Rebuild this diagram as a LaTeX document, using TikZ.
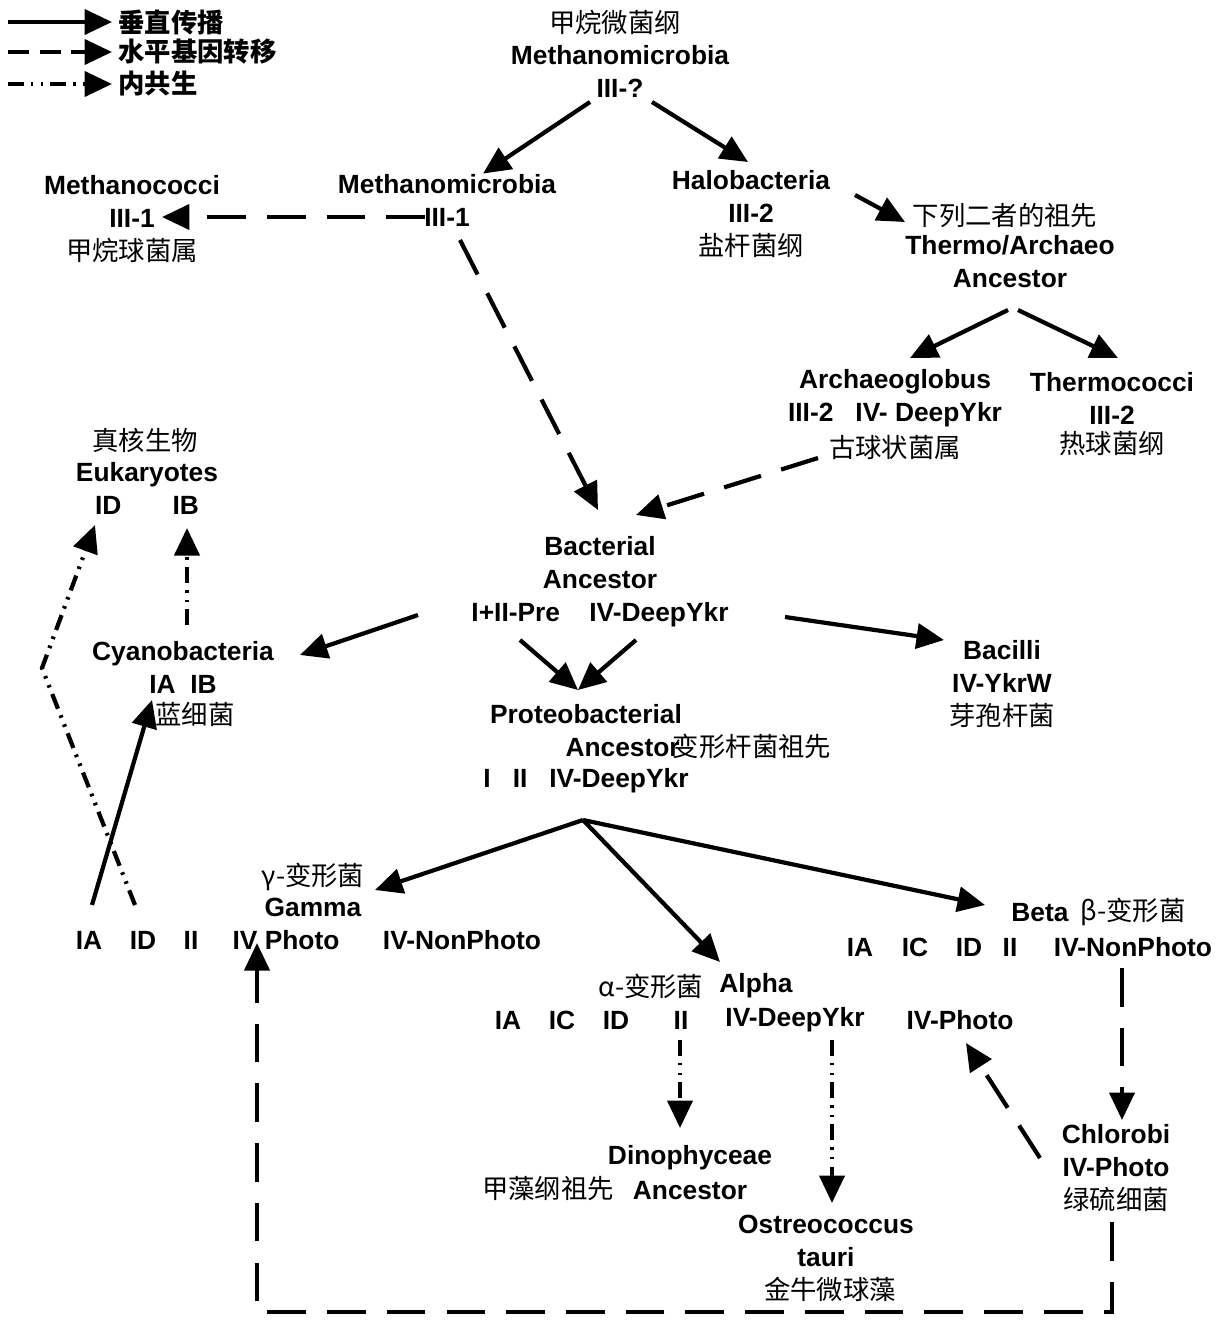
\documentclass[tikz,border=0pt]{standalone}
\usepackage{fontspec}
\setmainfont{Liberation Sans}
\newfontfamily\cjk{Noto Sans CJK SC}
\usetikzlibrary{arrows.meta}
\tikzset{
  lbl/.style={font=\fontsize{15}{18.8}\selectfont\bfseries, align=center, inner sep=0pt},
  zh/.style={font=\fontsize{15}{18.8}\selectfont\cjk, align=center, inner sep=0pt},
  link/.style={line width=2.4pt, -{Triangle[length=0.55cm,width=0.5cm]}},
  vert/.style={link},
  horiz/.style={link, dash pattern=on 22pt off 12pt},
  endo/.style={link, dash pattern=on 9pt off 4pt on 1.5pt off 4pt on 1.5pt off 4pt}
}
\begin{document}
\begin{tikzpicture}[x=0.02cm, y=-0.02cm]
\useasboundingbox (0,0) rectangle (1228,1329);

% legend
\coordinate (l1a) at (8,22);  \coordinate (l1b) at (112,22);
\coordinate (l2a) at (8,52);  \coordinate (l2b) at (112,52);
\coordinate (l3a) at (8,84);  \coordinate (l3b) at (112,84);
\draw [vert] (l1a) -- (l1b);
\draw [link, dash pattern=on 12pt off 6pt] (l2a) -- (l2b);
\draw [endo] (l3a) -- (l3b);
\node (t1) [zh, anchor=west, font=\fontsize{15}{18}\selectfont\cjk\bfseries] at (118,22) {垂直传播};
\node (t2) [zh, anchor=west, font=\fontsize{15}{18}\selectfont\cjk\bfseries] at (118,52) {水平基因转移};
\node (t3) [zh, anchor=west, font=\fontsize{15}{18}\selectfont\cjk\bfseries] at (118,84) {内共生};

% archaea
\node (mmZh) [zh] at (615,22) {甲烷微菌纲};
\node (mm) [lbl] at (620,71) {Methanomicrobia\\III-?};
\node (mcoc) [lbl] at (132,201) {Methanococci\\III-1};
\node (mcocZh) [zh] at (132,250) {甲烷球菌属};
\node (mm1) [lbl] at (447,200) {Methanomicrobia\\III-1};
\node (halo) [lbl] at (751,196) {Halobacteria\\III-2};
\node (haloZh) [zh] at (751,245) {盐杆菌纲};
\node (taZh) [zh] at (1005,215) {下列二者的祖先};
\node (ta) [lbl] at (1010,262) {Thermo/Archaeo\\Ancestor};
\node (arch) [lbl] at (895,398) {Archaeoglobus\\III-2~~~IV- DeepYkr};
\node (archZh) [zh] at (895,447) {古球状菌属};
\node (tcoc) [lbl] at (1112,398) {Thermococci\\III-2};
\node (tcocZh) [zh] at (1112,444) {热球菌纲};

% bacteria
\node (eukZh) [zh] at (145,440) {真核生物};
\node (euk) [lbl] at (147,488) {Eukaryotes\\ID~~~~~~~IB};
\node (bact) [lbl] at (600,582) {Bacterial\\Ancestor\\I+II-Pre~~~~IV-DeepYkr};
\node (cyano) [lbl] at (183,667) {Cyanobacteria\\IA~~IB};
\node (cyanoZh) [zh] at (195,714) {蓝细菌};
\node (bac) [lbl] at (1002,666) {Bacilli\\IV-YkrW};
\node (bacZh) [zh] at (1002,715) {芽孢杆菌};
\node (pro) [lbl] at (586,731) {Proteobacterial\\~~~~~~~~~~Ancestor};
\node (proZh) [zh] at (752,746) {变形杆菌祖先};
\node (proR) [lbl] at (586,781) {I~~~II~~~IV-DeepYkr};

\node (gamZh) [zh] at (313,877) {γ-变形菌};
\node (gam) [lbl] at (313,907) {Gamma};
\node (gIA) [lbl] at (89,940) {IA};
\node (gID) [lbl] at (143,940) {ID};
\node (gII) [lbl] at (191,940) {II};
\node (gIV) [lbl] at (286,940) {IV Photo};
\node (gNP) [lbl] at (462,940) {IV-NonPhoto};

\node (beta) [lbl] at (1040,913) {Beta};
\node (betaZh) [zh] at (1133,912) {β-变形菌};
\node (bIA) [lbl] at (860,947) {IA};
\node (bIC) [lbl] at (915,947) {IC};
\node (bID) [lbl] at (969,947) {ID};
\node (bII) [lbl] at (1010,947) {II};
\node (bNP) [lbl] at (1133,947) {IV-NonPhoto};

\node (alZh) [zh] at (651,986) {α-变形菌};
\node (al) [lbl] at (756,986) {Alpha};
\node (aIA) [lbl] at (508,1020) {IA};
\node (aIC) [lbl] at (562,1020) {IC};
\node (aID) [lbl] at (616,1020) {ID};
\node (aII) [lbl] at (681,1020) {II};
\node (aDY) [lbl] at (795,1020) {IV-DeepYkr};
\node (aPh) [lbl] at (960,1020) {IV-Photo};

\node (dino) [lbl] at (690,1158) {Dinophyceae};
\node (dinoZh) [zh] at (548,1189) {甲藻纲祖先};
\node (dinoA) [lbl] at (690,1191) {Ancestor};
\node (ost) [lbl] at (826,1241) {Ostreococcus\\tauri};
\node (ostZh) [zh] at (830,1289) {金牛微球藻};
\node (chl) [lbl] at (1116,1151) {Chlorobi\\IV-Photo};
\node (chlZh) [zh] at (1116,1199) {绿硫细菌};

% connector ends
\coordinate (mmL) at (590,102);  \coordinate (mmR) at (652,102);
\coordinate (haloIn) at (748,162);
\coordinate (taIn) at (905,222);  \coordinate (haloOut) at (855,195);
\coordinate (taL) at (1008,310);  \coordinate (taR) at (1018,310);
\coordinate (archIn) at (910,358); \coordinate (tcocIn) at (1118,358);
\coordinate (mm1L) at (425,217);  \coordinate (mcocIn) at (162,217);
\coordinate (mm1D) at (460,240);  \coordinate (bactIn) at (598,510);
\coordinate (archOut) at (818,458); \coordinate (bactIn2) at (636,515);
\coordinate (bactL) at (418,615); \coordinate (cyanoIn) at (300,655);
\coordinate (bactR) at (785,617); \coordinate (bacIn) at (944,640);
\coordinate (bact1) at (520,640); \coordinate (bact2) at (636,640);
\coordinate (proIn) at (578,690);
\coordinate (proOut) at (583,820);
\coordinate (gamIn) at (375,890); \coordinate (alIn) at (720,962); \coordinate (betaIn) at (985,905);
\coordinate (gIAup) at (92,905); \coordinate (cyanoUp) at (152,700);
\coordinate (gIDup) at (135,905); \coordinate (bend) at (42,668); \coordinate (eukIn) at (95,525);
\coordinate (cyIBup) at (187,625); \coordinate (eukIn2) at (187,528);
\coordinate (aIIdn) at (680,1040); \coordinate (dinoIn) at (680,1128);
\coordinate (aDYdn) at (832,1040); \coordinate (ostIn) at (832,1203);
\coordinate (bNPdn) at (1122,968); \coordinate (chlIn) at (1122,1120);
\coordinate (chlOut) at (1040,1158); \coordinate (aPhIn) at (966,1043);
\coordinate (chlDn) at (1112,1222); \coordinate (c1) at (1112,1312); \coordinate (c2) at (257,1312);
\coordinate (gIVin) at (257,943);

% vertical descent
\draw [vert] (mmL) -- (mm1.north east -| 483,160);
\draw [vert] (mmR) -- (haloIn);
\draw [vert] (haloOut) -- (taIn);
\draw [vert] (taL) -- (archIn);
\draw [vert] (taR) -- (tcocIn);
\draw [vert] (bactL) -- (cyanoIn);
\draw [vert] (bactR) -- (bacIn);
\draw [vert] (bact1) -- (proIn);
\draw [vert] (bact2) -- (proIn);
\draw [vert] (proOut) -- (gamIn);
\draw [vert] (proOut) -- (alIn);
\draw [vert] (proOut) -- (betaIn);
\draw [vert] (gIAup) -- (cyanoUp);

% horizontal transfer
\draw [horiz] (mm1L) -- (mcocIn);
\draw [horiz] (mm1D) -- (bactIn);
\draw [horiz] (archOut) -- (bactIn2);
\draw [horiz] (bNPdn) -- (chlIn);
\draw [horiz] (chlOut) -- (aPhIn);
\draw [horiz] (chlDn) -- (c1) -- (c2) -- (gIVin);

% endosymbiosis
\draw [endo] (gIDup) -- (bend) -- (eukIn);
\draw [endo] (cyIBup) -- (eukIn2);
\draw [endo] (aIIdn) -- (dinoIn);
\draw [endo] (aDYdn) -- (ostIn);
\end{tikzpicture}
\end{document}
